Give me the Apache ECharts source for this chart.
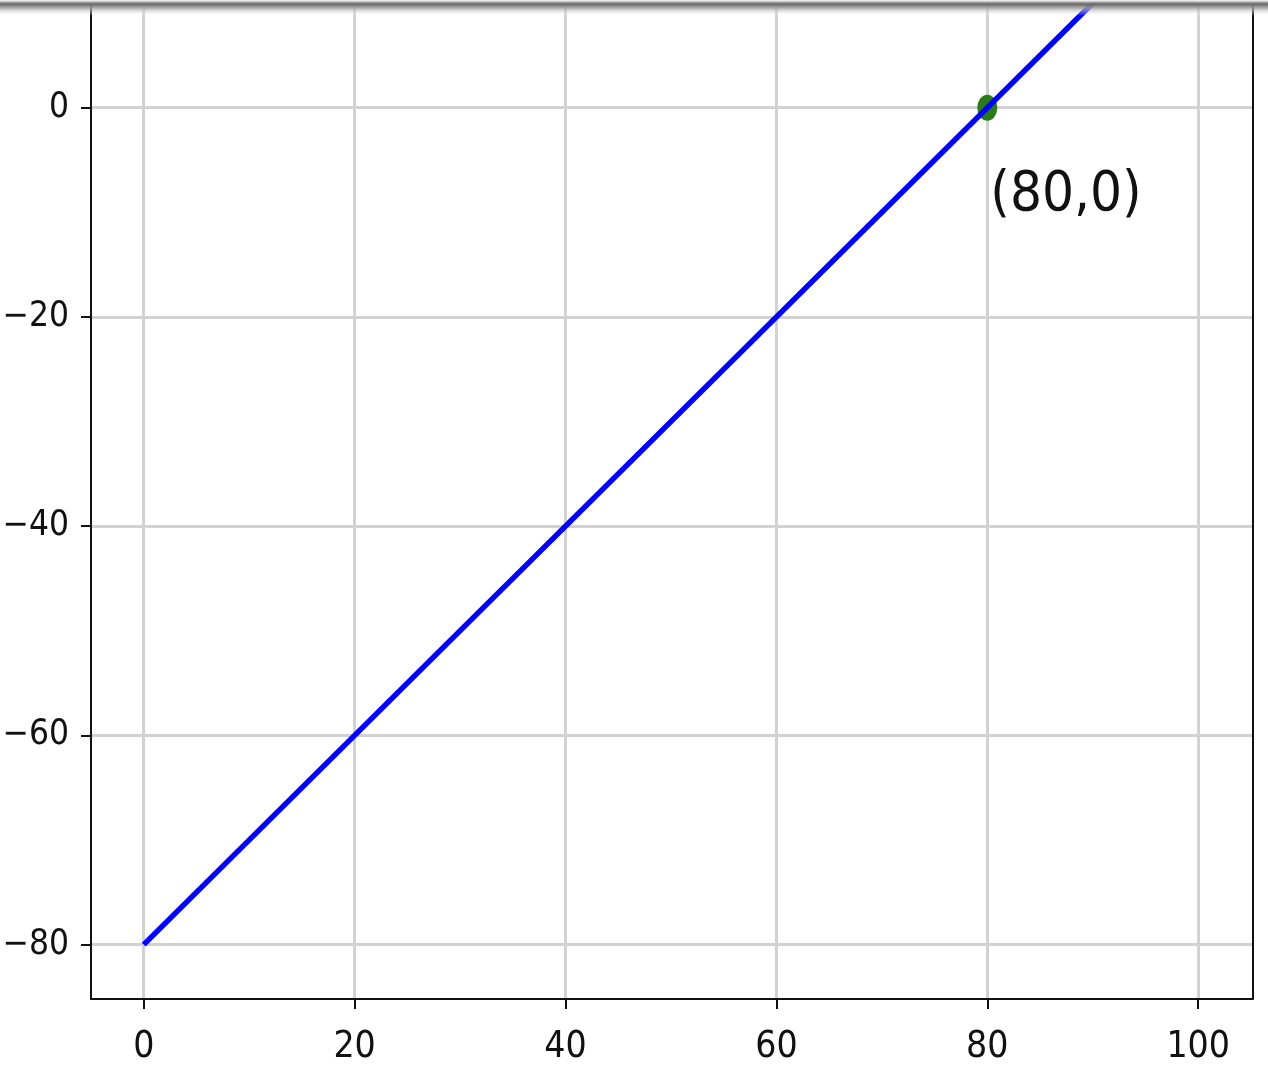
<!DOCTYPE html>
<html>
<head>
<meta charset="utf-8">
<script src="https://cdn.jsdelivr.net/npm/echarts@6/dist/echarts.min.js"></script>
<style>
html,body{margin:0;padding:0;background:#fff;}
#chart{width:1268px;height:1072px;}
</style>
</head>
<body>
<div id="chart"></div>
<script>
// ---- data ----
const lineX = [0, 100];
const lineY = [-80, 20];
const pointX = [80];
const pointY = [0];
const annotationText = '(80,0)';
const annotationPos = [80, -10];
const xTicks = [0, 20, 40, 60, 80, 100];
const yTicks = [-80, -60, -40, -20, 0];

const FONT = '"DejaVu Sans Condensed", "Liberation Sans Narrow", "DejaVu Sans", sans-serif';

const chart = echarts.init(document.getElementById('chart'), null, {renderer: 'canvas'});

const lineData = lineX.map((x, i) => [x, lineY[i]]);
const pointData = pointX.map((x, i) => [x, pointY[i]]);

chart.setOption({
  animation: false,
  backgroundColor: '#ffffff',
  grid: {left: 91, right: 15, top: 0, bottom: 73, containLabel: false, outerBoundsMode: 'none'},
  xAxis: {
    type: 'value', min: -5, max: 105.2,
    axisLine: {show: true, onZero: false, lineStyle: {color: '#111', width: 2}},
    axisTick: {show: true, length: 10, inside: false, customValues: xTicks, lineStyle: {color: '#111', width: 2}},
    axisLabel: {customValues: xTicks, color: '#111', fontFamily: FONT, fontSize: 37, margin: 30},
    splitLine: {show: true, lineStyle: {color: '#d2d2d2', width: 3}}
  },
  yAxis: {
    type: 'value', min: -85.2, max: 10.3,
    axisLine: {show: true, onZero: false, lineStyle: {color: '#111', width: 2}},
    axisTick: {show: true, length: 10, inside: false, customValues: yTicks, lineStyle: {color: '#111', width: 2}},
    axisLabel: {customValues: yTicks, color: '#111', fontFamily: FONT, fontSize: 35, margin: 22,
      formatter: v => (v < 0 ? '\u2212' + Math.abs(v) : String(v))},
    splitLine: {show: true, lineStyle: {color: '#d2d2d2', width: 3}}
  },
  graphic: [
    {type: 'line', shape: {x1: 1253, y1: 0, x2: 1253, y2: 999}, style: {stroke: '#111', lineWidth: 2}, z: 100},
    {type: 'rect', shape: {x: 0, y: 0, width: 1268, height: 16},
      style: {fill: new echarts.graphic.LinearGradient(0, 0, 0, 1, [
        {offset: 0, color: 'rgba(255,255,255,1)'},
        {offset: 0.25, color: 'rgba(100,100,100,1)'},
        {offset: 0.5, color: 'rgba(160,160,160,0.85)'},
        {offset: 1, color: 'rgba(255,255,255,0)'}
      ])}, z: 200}
  ],
  series: [
    {
      type: 'line', data: lineData, showSymbol: false, clip: true,
      lineStyle: {color: '#0000ff', width: 5.5}, z: 3
    },
    {
      type: 'scatter', data: pointData, symbol: 'circle', symbolSize: [20, 26],
      itemStyle: {color: '#2a7a1a', opacity: 1}, z: 2
    },
    {
      type: 'scatter', data: [annotationPos], symbolSize: 0,
      itemStyle: {opacity: 1},
      label: {show: true, formatter: annotationText, position: [0, 0], align: 'left', verticalAlign: 'bottom',
        offset: [3, 11], color: '#111', fontFamily: FONT, fontSize: 56},
      z: 5
    }
  ]
});
</script>
</body>
</html>
